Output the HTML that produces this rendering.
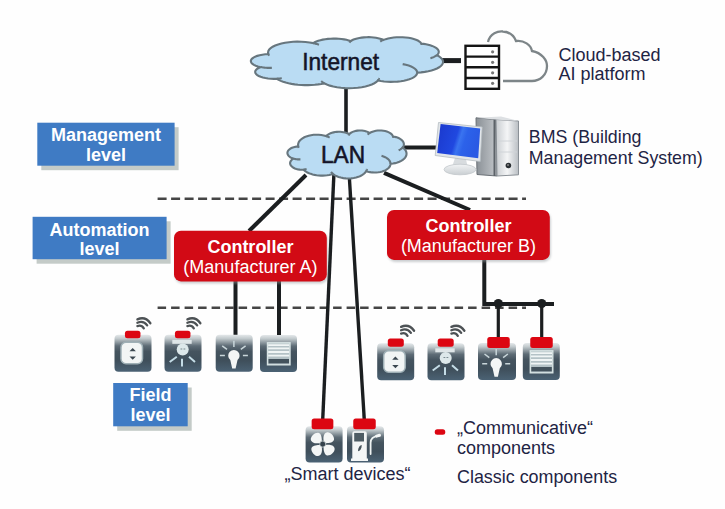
<!DOCTYPE html>
<html><head><meta charset="utf-8"><style>
html,body{margin:0;padding:0;background:#fff;width:725px;height:509px;overflow:hidden}
svg{display:block;font-family:"Liberation Sans",sans-serif}
</style></head><body>
<svg width="725" height="509" viewBox="0 0 725 509">
<rect width="725" height="509" fill="#fefefe"/>
<defs><linearGradient id="devg" x1="0" y1="0" x2="0" y2="1"><stop offset="0" stop-color="#e4e8ea"/><stop offset="0.1" stop-color="#c2cacd"/><stop offset="0.3" stop-color="#5e6c76"/><stop offset="0.45" stop-color="#45545f"/><stop offset="0.7" stop-color="#3f4f5b"/><stop offset="1" stop-color="#4b6274"/></linearGradient><filter id="blur1"><feGaussianBlur stdDeviation="1"/></filter><filter id="blur05" x="-10%" y="-10%" width="120%" height="120%"><feGaussianBlur stdDeviation="0.6"/></filter></defs><path d="M157.6,198.8 H526" stroke="#454545" stroke-width="2.6" stroke-dasharray="9,4.5"/><path d="M157.6,307.8 H526" stroke="#454545" stroke-width="2.6" stroke-dasharray="8.5,5"/><path d="M346,80 V136" stroke="#1b1e20" stroke-width="3.6" fill="none"/><path d="M436,60.6 H461" stroke="#1b1e20" stroke-width="5" fill="none"/><path d="M395,147.5 H437" stroke="#1b1e20" stroke-width="4" fill="none"/><path d="M306,175 L249,231" stroke="#1b1e20" stroke-width="4" fill="none"/><path d="M334,172 L322.7,420" stroke="#1b1e20" stroke-width="3.4" fill="none"/><path d="M349,172 L364.3,420" stroke="#1b1e20" stroke-width="3.4" fill="none"/><path d="M384,172.8 L470,210" stroke="#1b1e20" stroke-width="4" fill="none"/><path d="M235.5,280 V336" stroke="#1b1e20" stroke-width="4" fill="none"/><path d="M279,280 V336" stroke="#1b1e20" stroke-width="4" fill="none"/><path d="M484.3,258 V304 H554" stroke="#1b1e20" stroke-width="4" fill="none"/><path d="M498.3,304 V339" stroke="#1b1e20" stroke-width="3.2" fill="none"/><path d="M541.7,304 V339" stroke="#1b1e20" stroke-width="3.2" fill="none"/><circle cx="498.3" cy="303.5" r="4.6" fill="#1b1e20"/><circle cx="541.7" cy="303.5" r="4.6" fill="#1b1e20"/><path d="M268.33,53.96 L268.06,52.45 L268.37,50.94 L269.26,49.46 L270.71,48.04 L272.70,46.71 L275.18,45.49 L278.11,44.40 L281.42,43.48 L285.07,42.72 L288.96,42.17 L293.03,41.81 L297.20,41.66 L301.39,41.72 L305.51,41.99 L309.49,42.47 L313.25,43.14 L314.68,42.29 L316.37,41.50 L318.30,40.79 L320.45,40.17 L322.79,39.64 L325.28,39.21 L327.88,38.89 L330.58,38.69 L333.32,38.59 L336.07,38.61 L338.80,38.75 L341.46,39.00 L344.03,39.36 L346.46,39.83 L348.73,40.39 L350.80,41.05 L352.04,40.28 L353.53,39.58 L355.26,38.95 L357.19,38.40 L359.30,37.94 L361.55,37.59 L363.91,37.34 L366.34,37.20 L368.79,37.17 L371.24,37.25 L373.63,37.45 L375.94,37.75 L378.12,38.16 L380.15,38.67 L381.98,39.26 L383.59,39.93 L385.72,39.14 L388.13,38.47 L390.79,37.93 L393.62,37.53 L396.59,37.28 L399.62,37.18 L402.67,37.23 L405.66,37.44 L408.54,37.80 L411.25,38.31 L413.74,38.94 L415.95,39.69 L417.85,40.55 L419.39,41.50 L420.55,42.52 L421.30,43.58 L423.71,43.87 L426.01,44.25 L428.19,44.72 L430.22,45.26 L432.08,45.89 L433.75,46.58 L435.20,47.33 L436.42,48.13 L437.40,48.98 L438.12,49.86 L438.58,50.76 L438.77,51.67 L438.69,52.59 L438.35,53.50 L437.73,54.39 L436.86,55.25 L439.04,56.43 L440.78,57.70 L442.05,59.04 L442.82,60.43 L443.09,61.84 L442.85,63.25 L442.10,64.64 L440.86,65.99 L439.15,67.26 L437.00,68.45 L434.44,69.52 L431.51,70.46 L428.27,71.26 L424.77,71.90 L421.08,72.37 L417.24,72.66 L416.99,73.88 L416.29,75.09 L415.16,76.25 L413.61,77.34 L411.67,78.35 L409.38,79.27 L406.78,80.06 L403.91,80.72 L400.82,81.24 L397.57,81.61 L394.22,81.82 L390.81,81.87 L387.42,81.75 L384.11,81.47 L380.92,81.04 L377.92,80.46 L376.41,81.89 L374.36,83.24 L371.81,84.46 L368.81,85.54 L365.42,86.46 L361.70,87.20 L357.74,87.74 L353.61,88.07 L349.39,88.19 L345.17,88.09 L341.02,87.78 L337.04,87.25 L333.30,86.54 L329.88,85.63 L326.84,84.57 L324.25,83.35 L321.24,83.94 L318.09,84.41 L314.82,84.77 L311.47,85.00 L308.07,85.12 L304.66,85.11 L301.27,84.98 L297.93,84.73 L294.67,84.36 L291.54,83.87 L288.55,83.28 L285.74,82.58 L283.13,81.78 L280.76,80.89 L278.64,79.92 L276.80,78.87 L273.85,78.92 L270.92,78.80 L268.07,78.52 L265.37,78.09 L262.88,77.52 L260.66,76.81 L258.77,76.00 L257.24,75.08 L256.12,74.10 L255.42,73.07 L255.16,72.01 L255.36,70.94 L256.00,69.91 L257.07,68.91 L258.55,67.99 L260.39,67.16 L257.91,66.53 L255.73,65.77 L253.90,64.90 L252.47,63.93 L251.48,62.89 L250.94,61.81 L250.87,60.71 L251.28,59.62 L252.15,58.56 L253.46,57.57 L255.18,56.67 L257.27,55.87 L259.68,55.21 L262.34,54.69 L265.20,54.32 L268.17,54.12Z" fill="#badcf3" stroke="#67767e" stroke-width="2.1"/><path d="M271.86,67.90 L270.39,67.92 L268.93,67.91 L267.47,67.85 L266.03,67.75 L264.62,67.61 L263.23,67.43 L261.89,67.21 L260.60,66.96M281.79,78.20 L281.20,78.28 L280.59,78.36 L279.98,78.42 L279.37,78.48 L278.75,78.54 L278.12,78.58 L277.50,78.62 L276.87,78.65M324.24,83.15 L323.80,82.90 L323.38,82.66 L322.98,82.41 L322.60,82.15 L322.24,81.89 L321.90,81.63 L321.57,81.36 L321.27,81.09M379.12,78.03 L379.04,78.31 L378.95,78.60 L378.83,78.88 L378.69,79.16 L378.53,79.45 L378.35,79.73 L378.15,80.00 L377.93,80.28M402.68,64.10 L405.81,64.75 L408.66,65.56 L411.17,66.50 L413.28,67.56 L414.96,68.71 L416.18,69.94 L416.91,71.22 L417.14,72.52M436.77,55.13 L436.19,55.58 L435.55,56.01 L434.84,56.43 L434.06,56.84 L433.21,57.23 L432.31,57.60 L431.35,57.95 L430.33,58.29M421.33,43.41 L421.41,43.59 L421.49,43.78 L421.55,43.96 L421.60,44.15 L421.63,44.34 L421.66,44.52 L421.67,44.71 L421.67,44.90M380.24,41.67 L380.56,41.41 L380.91,41.16 L381.29,40.91 L381.69,40.67 L382.12,40.44 L382.57,40.21 L383.04,39.98 L383.53,39.76M349.40,42.57 L349.54,42.36 L349.70,42.15 L349.87,41.94 L350.06,41.73 L350.27,41.53 L350.50,41.33 L350.74,41.13 L351.00,40.93M313.22,43.13 L314.00,43.30 L314.76,43.48 L315.51,43.67 L316.24,43.86 L316.96,44.07 L317.66,44.28 L318.34,44.50 L319.00,44.72M269.34,55.64 L269.18,55.43 L269.02,55.23 L268.88,55.02 L268.75,54.81 L268.63,54.60 L268.52,54.39 L268.42,54.18 L268.33,53.96" fill="none" stroke="#67767e" stroke-width="2.1"/><path d="M298.24,146.27 L298.07,144.84 L298.27,143.42 L298.82,142.03 L299.72,140.69 L300.95,139.44 L302.49,138.29 L304.30,137.27 L306.36,136.39 L308.61,135.69 L311.03,135.16 L313.55,134.82 L316.14,134.68 L318.73,134.74 L321.29,135.00 L323.75,135.45 L326.08,136.08 L326.97,135.28 L328.02,134.54 L329.21,133.87 L330.55,133.28 L331.99,132.79 L333.54,132.38 L335.15,132.08 L336.82,131.89 L338.52,131.80 L340.23,131.82 L341.92,131.95 L343.57,132.18 L345.16,132.52 L346.67,132.96 L348.07,133.50 L349.36,134.11 L350.12,133.39 L351.05,132.73 L352.12,132.13 L353.32,131.61 L354.62,131.19 L356.02,130.85 L357.48,130.62 L358.98,130.49 L360.51,130.46 L362.02,130.54 L363.51,130.72 L364.94,131.01 L366.29,131.39 L367.55,131.87 L368.68,132.42 L369.68,133.06 L371.00,132.32 L372.50,131.69 L374.14,131.18 L375.90,130.80 L377.74,130.56 L379.62,130.47 L381.50,130.52 L383.36,130.72 L385.14,131.06 L386.82,131.53 L388.36,132.13 L389.74,132.84 L390.91,133.64 L391.87,134.54 L392.59,135.49 L393.05,136.50 L394.54,136.77 L395.97,137.12 L397.32,137.56 L398.58,138.08 L399.73,138.66 L400.76,139.31 L401.66,140.02 L402.42,140.78 L403.03,141.57 L403.48,142.40 L403.76,143.25 L403.88,144.11 L403.83,144.97 L403.61,145.83 L403.23,146.67 L402.69,147.48 L404.05,148.59 L405.12,149.78 L405.91,151.04 L406.39,152.35 L406.56,153.68 L406.41,155.01 L405.94,156.32 L405.18,157.58 L404.12,158.78 L402.78,159.90 L401.19,160.90 L399.38,161.79 L397.37,162.54 L395.20,163.14 L392.91,163.58 L390.54,163.86 L390.38,165.01 L389.94,166.15 L389.24,167.24 L388.28,168.27 L387.08,169.22 L385.66,170.08 L384.05,170.83 L382.27,171.45 L380.36,171.94 L378.35,172.29 L376.27,172.48 L374.16,172.53 L372.05,172.42 L370.00,172.16 L368.02,171.75 L366.16,171.20 L365.23,172.55 L363.96,173.82 L362.37,174.97 L360.51,175.99 L358.41,176.85 L356.11,177.54 L353.66,178.05 L351.10,178.36 L348.48,178.48 L345.86,178.38 L343.30,178.09 L340.83,177.60 L338.51,176.92 L336.39,176.07 L334.51,175.07 L332.90,173.93 L331.03,174.48 L329.08,174.92 L327.05,175.26 L324.98,175.48 L322.87,175.59 L320.76,175.58 L318.66,175.46 L316.59,175.22 L314.57,174.87 L312.62,174.42 L310.77,173.86 L309.03,173.19 L307.41,172.44 L305.94,171.61 L304.63,170.69 L303.49,169.71 L301.66,169.75 L299.84,169.64 L298.08,169.38 L296.40,168.97 L294.86,168.43 L293.49,167.77 L292.32,167.00 L291.37,166.14 L290.67,165.22 L290.24,164.25 L290.08,163.25 L290.20,162.25 L290.60,161.27 L291.26,160.34 L292.18,159.47 L293.32,158.69 L291.78,158.10 L290.43,157.38 L289.30,156.55 L288.41,155.64 L287.79,154.67 L287.46,153.65 L287.42,152.61 L287.67,151.59 L288.21,150.60 L289.03,149.66 L290.09,148.81 L291.39,148.06 L292.88,147.44 L294.53,146.95 L296.30,146.60 L298.14,146.42Z" fill="#badcf3" stroke="#67767e" stroke-width="2.1"/><path d="M300.43,159.39 L299.52,159.41 L298.61,159.39 L297.71,159.33 L296.82,159.24 L295.94,159.11 L295.08,158.94 L294.25,158.74 L293.45,158.50M306.58,169.08 L306.22,169.15 L305.84,169.22 L305.46,169.29 L305.08,169.34 L304.70,169.39 L304.31,169.44 L303.92,169.47 L303.53,169.50M332.89,173.73 L332.62,173.50 L332.36,173.27 L332.11,173.03 L331.88,172.79 L331.65,172.55 L331.44,172.30 L331.24,172.05 L331.05,171.80M366.91,168.91 L366.86,169.18 L366.80,169.45 L366.73,169.72 L366.64,169.98 L366.54,170.25 L366.43,170.51 L366.31,170.77 L366.17,171.03M381.51,155.80 L383.45,156.42 L385.22,157.18 L386.77,158.06 L388.08,159.06 L389.12,160.15 L389.88,161.30 L390.33,162.51 L390.47,163.73M402.64,147.36 L402.28,147.78 L401.88,148.19 L401.44,148.59 L400.96,148.97 L400.43,149.34 L399.87,149.69 L399.28,150.02 L398.65,150.33M393.07,136.33 L393.12,136.50 L393.17,136.68 L393.21,136.85 L393.24,137.03 L393.26,137.20 L393.27,137.38 L393.28,137.56 L393.28,137.73M367.60,134.69 L367.80,134.45 L368.02,134.21 L368.25,133.98 L368.50,133.76 L368.77,133.53 L369.04,133.32 L369.34,133.11 L369.64,132.90M348.49,135.54 L348.58,135.34 L348.67,135.15 L348.78,134.95 L348.90,134.76 L349.03,134.56 L349.17,134.37 L349.32,134.19 L349.48,134.00M326.06,136.07 L326.55,136.23 L327.02,136.40 L327.48,136.57 L327.94,136.76 L328.38,136.95 L328.81,137.15 L329.24,137.35 L329.65,137.57M298.87,147.84 L298.77,147.65 L298.67,147.45 L298.58,147.26 L298.50,147.06 L298.42,146.86 L298.36,146.67 L298.30,146.47 L298.24,146.27" fill="none" stroke="#67767e" stroke-width="2.1"/><path d="M488,42 C490,33 498,31 503,31.5 C510,32 514,36 516,41 C524,40 531,45 532,51 C542,53 547,60 547,66 C547,75 540,81 532,81 H503" fill="none" stroke="#7d8588" stroke-width="2.3"/><rect x="465.5" y="45.8" width="33.5" height="43" fill="#fff" stroke="#141414" stroke-width="2.4"/><path d="M465.5,56.6 H499 M465.5,67.3 H499 M465.5,78 H499" stroke="#141414" stroke-width="2.4"/><circle cx="492.6" cy="51.8" r="1.6" fill="#777"/><circle cx="492.6" cy="62.3" r="1.6" fill="#777"/><circle cx="492.6" cy="72.8" r="1.6" fill="#777"/><circle cx="492.6" cy="83.3" r="1.6" fill="#777"/><defs><linearGradient id="scr" x1="0" y1="0" x2="1" y2="0.25"><stop offset="0" stop-color="#1a38cc"/><stop offset="0.5" stop-color="#2048e0"/><stop offset="0.6" stop-color="#3a74f0"/><stop offset="0.72" stop-color="#2c62ea"/><stop offset="1" stop-color="#2a5ae4"/></linearGradient><linearGradient id="towf" x1="0" y1="0" x2="1" y2="0"><stop offset="0" stop-color="#c9cdd1"/><stop offset="0.5" stop-color="#f4f5f6"/><stop offset="1" stop-color="#b9bec3"/></linearGradient><linearGradient id="tows" x1="0" y1="0" x2="1" y2="0"><stop offset="0" stop-color="#8a9096"/><stop offset="1" stop-color="#c3c7cb"/></linearGradient><linearGradient id="stand" x1="0" y1="0" x2="0" y2="1"><stop offset="0" stop-color="#f2f4f5"/><stop offset="1" stop-color="#c9ced2"/></linearGradient></defs><path d="M476,117.8 L496,119.5 L497,176 L477,174.5 Z" fill="url(#tows)" stroke="#6a7076" stroke-width="1"/><path d="M496,119.5 L518.5,121 L518.5,174.8 L497,176 Z" fill="url(#towf)" stroke="#8a9096" stroke-width="1"/><path d="M494.5,119.5 V176" stroke="#5c6268" stroke-width="2"/><path d="M476,117.8 L501,116.6 L518.5,121 L496,119.5 Z" fill="#dde0e3"/><path d="M498,141 H517 M498,152 H517" stroke="#d0d4d8" stroke-width="1"/><circle cx="508.4" cy="165.5" r="2.8" fill="#2a2f33"/><circle cx="508" cy="165" r="1" fill="#888"/><path d="M455,158 L466,159.5 L468,168 L452,167 Z" fill="#d8dcdf"/><ellipse cx="460" cy="169.5" rx="16" ry="5.3" fill="url(#stand)" stroke="#c3c8cc" stroke-width="0.8"/><path d="M438.5,122.5 L482.2,127 L480.2,161.5 L435.2,155.5 Z" fill="#e2e6e9" stroke="#b5bcc1" stroke-width="0.8"/><path d="M440.6,123.9 L480.2,128.4 L478.2,158.3 L437.2,152.9 Z" fill="url(#scr)"/><rect x="41.3" y="127.2" width="137.3" height="43" fill="#c4cbc8" filter="url(#blur05)"/><rect x="37.3" y="122.7" width="137.3" height="43" fill="#3f7bc4"/><text x="105.95" y="140.9" text-anchor="middle" font-weight="bold" font-size="18" fill="#fff">Management</text><text x="105.95" y="161.0" text-anchor="middle" font-weight="bold" font-size="18" fill="#fff">level</text><rect x="36.6" y="221.3" width="134" height="42.4" fill="#c4cbc8" filter="url(#blur05)"/><rect x="32.6" y="216.8" width="134" height="42.4" fill="#3f7bc4"/><text x="99.6" y="235.8" text-anchor="middle" font-weight="bold" font-size="18" fill="#fff">Automation</text><text x="99.6" y="255.3" text-anchor="middle" font-weight="bold" font-size="18" fill="#fff">level</text><rect x="117.2" y="387.5" width="74.5" height="43.3" fill="#c4cbc8" filter="url(#blur05)"/><rect x="113.2" y="383" width="74.5" height="43.3" fill="#3f7bc4"/><text x="150.45" y="401.2" text-anchor="middle" font-weight="bold" font-size="18" fill="#fff">Field</text><text x="150.45" y="420.7" text-anchor="middle" font-weight="bold" font-size="18" fill="#fff">level</text><rect x="175" y="232.7" width="152.8" height="50.7" rx="7" fill="#9aa0a4" opacity="0.5" filter="url(#blur1)"/><rect x="174" y="230.7" width="152.8" height="50.7" rx="7" fill="#d20a15"/><text x="250.4" y="252.7" text-anchor="middle" font-weight="bold" font-size="18" fill="#fff">Controller</text><text x="250.4" y="273.0" text-anchor="middle" font-size="18" fill="#fff">(Manufacturer A)</text><rect x="388" y="211.9" width="162.8" height="50" rx="7" fill="#9aa0a4" opacity="0.5" filter="url(#blur1)"/><rect x="387" y="209.9" width="162.8" height="50" rx="7" fill="#d20a15"/><text x="468.4" y="231.9" text-anchor="middle" font-weight="bold" font-size="18" fill="#fff">Controller</text><text x="468.4" y="252.2" text-anchor="middle" font-size="18" fill="#fff">(Manufacturer B)</text><g transform="translate(114.5,334.8)"><rect x="0" y="0" width="37" height="37" rx="4" fill="url(#devg)"/><rect x="6.5" y="7.5" width="21.5" height="21.5" rx="5" fill="#f2f5f5" stroke="#9fb0b6" stroke-width="1.5"/><path d="M18.2,13.2 l-3.2,3.2 h6.4z M18.2,25 l-3.2,-3.2 h6.4z" fill="#3b4750"/></g><rect x="124.94999999999999" y="330.8" width="15.5" height="7.5" rx="2.5" fill="#dc0612"/><g transform="translate(135.8,331)" fill="none" stroke="#4d5255" stroke-width="2.3" stroke-linecap="round"><path d="M1.6,-11.6 Q9.2,-15.2 14.6,-7.8"/><path d="M1.6,-8.3 Q7.7,-10.8 11.4,-5.6"/><path d="M1.6,-4.9 Q5.7,-6.4 8,-2.7"/></g><g transform="translate(164.5,334.8)"><rect x="0" y="0" width="37" height="37" rx="4" fill="url(#devg)"/><rect x="7.8" y="5" width="19.4" height="4" fill="#dfe6e8"/><circle cx="18.2" cy="14.8" r="6" fill="#dde8ea"/><path d="M16,14.2h1.8M19,14.2h1.8" stroke="#7a8a90" stroke-width="1.2"/><path d="M5.2,27.2 L12.3,22 M17.5,23.9 V31.7 M24.5,22 L30.5,27.2" stroke="#c4dce6" stroke-width="2"/></g><rect x="174.95" y="330.8" width="15.5" height="7.5" rx="2.5" fill="#dc0612"/><g transform="translate(185.8,331)" fill="none" stroke="#4d5255" stroke-width="2.3" stroke-linecap="round"><path d="M1.6,-11.6 Q9.2,-15.2 14.6,-7.8"/><path d="M1.6,-8.3 Q7.7,-10.8 11.4,-5.6"/><path d="M1.6,-4.9 Q5.7,-6.4 8,-2.7"/></g><g transform="translate(215.7,334.8)"><rect x="0" y="0" width="37" height="37" rx="4" fill="url(#devg)"/><path d="M18.2,6v6.2 M6.5,11 l4.8,3.6 M29.9,11 l-4.8,3.6 M4.2,20.8h5 M27.2,20.8h5" stroke="#c9d6da" stroke-width="1.5"/><path d="M16.5,33.8 L14.6,25.2 A5.7,5.7 0 1 1 21.8,25.2 L19.9,33.8 Z" fill="#f4f6f6"/></g><g transform="translate(260,335)"><rect x="0" y="0" width="37" height="37" rx="4" fill="url(#devg)"/><rect x="7.5" y="7.8" width="22.5" height="22" fill="#b4c2c6" stroke="#d8e4e4" stroke-width="1.4"/><path d="M8.2,10.2h21M8.2,13.4h21M8.2,17h21M8.2,20.6h21" stroke="#f0f5f5" stroke-width="1.8"/><rect x="8.5" y="24" width="20.5" height="4.4" fill="#43525c"/></g><g transform="translate(377.2,343.3)"><rect x="0" y="0" width="37" height="37" rx="4" fill="url(#devg)"/><rect x="6.5" y="7.5" width="21.5" height="21.5" rx="5" fill="#f2f5f5" stroke="#9fb0b6" stroke-width="1.5"/><path d="M18.2,13.2 l-3.2,3.2 h6.4z M18.2,25 l-3.2,-3.2 h6.4z" fill="#3b4750"/></g><rect x="387.8" y="338.4" width="16" height="8.3" rx="2.5" fill="#dc0612"/><g transform="translate(399.5,338.5)" fill="none" stroke="#4d5255" stroke-width="2.3" stroke-linecap="round"><path d="M1.6,-11.6 Q9.2,-15.2 14.6,-7.8"/><path d="M1.6,-8.3 Q7.7,-10.8 11.4,-5.6"/><path d="M1.6,-4.9 Q5.7,-6.4 8,-2.7"/></g><g transform="translate(427.5,343.3)"><rect x="0" y="0" width="37" height="37" rx="4" fill="url(#devg)"/><rect x="7.8" y="5" width="19.4" height="4" fill="#dfe6e8"/><circle cx="18.2" cy="14.8" r="6" fill="#dde8ea"/><path d="M16,14.2h1.8M19,14.2h1.8" stroke="#7a8a90" stroke-width="1.2"/><path d="M5.2,27.2 L12.3,22 M17.5,23.9 V31.7 M24.5,22 L30.5,27.2" stroke="#c4dce6" stroke-width="2"/></g><rect x="437.7" y="338.4" width="16" height="8.3" rx="2.5" fill="#dc0612"/><g transform="translate(449.8,338.5)" fill="none" stroke="#4d5255" stroke-width="2.3" stroke-linecap="round"><path d="M1.6,-11.6 Q9.2,-15.2 14.6,-7.8"/><path d="M1.6,-8.3 Q7.7,-10.8 11.4,-5.6"/><path d="M1.6,-4.9 Q5.7,-6.4 8,-2.7"/></g><g transform="translate(478,343)"><rect x="0" y="0" width="38" height="37" rx="4" fill="url(#devg)"/><path d="M18.2,6v6.2 M6.5,11 l4.8,3.6 M29.9,11 l-4.8,3.6 M4.2,20.8h5 M27.2,20.8h5" stroke="#c9d6da" stroke-width="1.5"/><path d="M16.5,33.8 L14.6,25.2 A5.7,5.7 0 1 1 21.8,25.2 L19.9,33.8 Z" fill="#f4f6f6"/></g><rect x="487.25" y="337" width="22.5" height="11" rx="2.5" fill="#dc0612"/><g transform="translate(522.8,343)"><rect x="0" y="0" width="37" height="37" rx="4" fill="url(#devg)"/><rect x="7.5" y="7.8" width="22.5" height="22" fill="#b4c2c6" stroke="#d8e4e4" stroke-width="1.4"/><path d="M8.2,10.2h21M8.2,13.4h21M8.2,17h21M8.2,20.6h21" stroke="#f0f5f5" stroke-width="1.8"/><rect x="8.5" y="24" width="20.5" height="4.4" fill="#43525c"/></g><rect x="530.25" y="337" width="22.5" height="11" rx="2.5" fill="#dc0612"/><g transform="translate(305.6,426.3)"><rect x="0" y="0" width="37" height="36.2" rx="4" fill="url(#devg)"/><g transform="translate(17.1,17.8) scale(1.08)"><g transform="rotate(-45)"><path d="M-0.8,-2.2 C-3.5,-4 -7,-7.5 -4.8,-10.8 C-2.8,-13.2 2.8,-12.8 4.6,-10.2 C6,-8 3.5,-4.5 1.2,-2.4 Z" fill="#f4f6f6"/></g><g transform="rotate(45)"><path d="M-0.8,-2.2 C-3.5,-4 -7,-7.5 -4.8,-10.8 C-2.8,-13.2 2.8,-12.8 4.6,-10.2 C6,-8 3.5,-4.5 1.2,-2.4 Z" fill="#f4f6f6"/></g><g transform="rotate(135)"><path d="M-0.8,-2.2 C-3.5,-4 -7,-7.5 -4.8,-10.8 C-2.8,-13.2 2.8,-12.8 4.6,-10.2 C6,-8 3.5,-4.5 1.2,-2.4 Z" fill="#f4f6f6"/></g><g transform="rotate(225)"><path d="M-0.8,-2.2 C-3.5,-4 -7,-7.5 -4.8,-10.8 C-2.8,-13.2 2.8,-12.8 4.6,-10.2 C6,-8 3.5,-4.5 1.2,-2.4 Z" fill="#f4f6f6"/></g><circle r="2.8" fill="#34424c" stroke="#e8eeee" stroke-width="0.6"/></g></g><rect x="311.65" y="418.6" width="21.7" height="10.6" rx="2.5" fill="#dc0612"/><g transform="translate(347,426.3)"><rect x="0" y="0" width="37" height="36.2" rx="4" fill="url(#devg)"/><path d="M5.3,32.3 V7 Q5.3,5 7.3,5 H17.8 Q19.8,5 19.8,7 V32.3 H21 V34.6 H4 V32.3 Z" fill="#f4f6f6"/><rect x="7.2" y="6.6" width="9.8" height="8.6" fill="#4e5c64"/><path d="M31.6,9.6 C27,10 23.6,12.5 23.6,16.5 V27.8" fill="none" stroke="#eef2f2" stroke-width="1.8" stroke-linecap="round"/><path d="M29.5,9.8 L32.5,9" stroke="#f4f6f6" stroke-width="3" stroke-linecap="round"/><path d="M11,25 C11,21 13,19 14.8,18.7 C14.8,22.5 13,24.5 11,25 Z" fill="#46525a"/></g><rect x="353.25" y="418.6" width="22.5" height="10.6" rx="2.5" fill="#dc0612"/><rect x="434.75" y="429.3" width="10.5" height="5.5" rx="2.5" fill="#dc0612"/><text transform="translate(302.2,70) scale(1,1.05)" x="0" y="0" font-size="22.7" fill="#141428" stroke="#141428" stroke-width="0.55">Internet</text><text transform="translate(321,162.9) scale(1,1.08)" x="0" y="0" font-size="22.7" fill="#141428" stroke="#141428" stroke-width="0.55">LAN</text><text x="558.5" y="61.0" font-size="18" fill="#1e2444" >Cloud-based</text><text x="558.5" y="80.2" font-size="18" fill="#1e2444" >AI platform</text><text x="528.8" y="142.9" font-size="17.8" fill="#1e2444" >BMS (Building</text><text x="528.8" y="163.9" font-size="17.8" fill="#1e2444" >Management System)</text><text x="284.4" y="480" font-size="18" fill="#1e2444" >„Smart devices“</text><text x="457" y="433.8" font-size="18" fill="#1e2444" >„Communicative“</text><text x="457" y="454.0" font-size="18" fill="#1e2444" >components</text><text x="457" y="482.5" font-size="17.9" fill="#1e2444" >Classic components</text>
</svg></body></html>
